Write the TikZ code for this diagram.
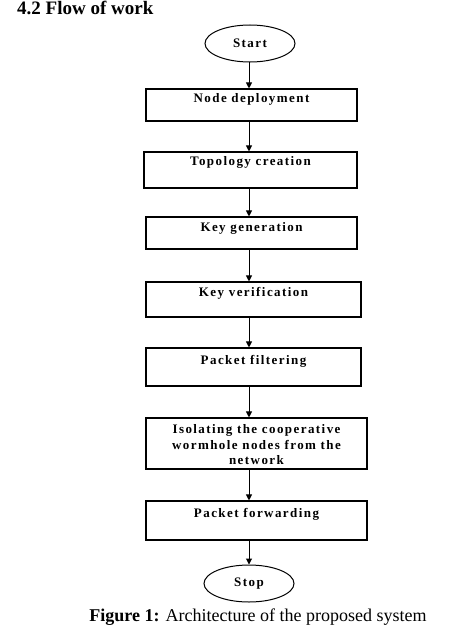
\documentclass[tikz,border=0pt]{standalone}
\usepackage{fontspec}
\setmainfont{Liberation Serif}
\newfontfamily\boxfont[LetterSpace=11]{Liberation Serif}
\usetikzlibrary{arrows.meta,shapes.geometric,calc}
\tikzset{
  flowbox/.style={draw=black, line width=1.1pt, rectangle, inner sep=0pt},
  term/.style={draw=black, line width=1.0pt, ellipse, minimum width=90pt, minimum height=37pt, inner sep=0pt, font=\boxfont\bfseries\fontsize{13}{15}\selectfont},
  lbl/.style={inner sep=0pt, align=center, font=\boxfont\bfseries\fontsize{13}{15.5}\selectfont},
  flowarrow/.style={draw=black, line width=1.0pt, -{Triangle[length=6pt,width=6pt]}},
}
\begin{document}
\begin{tikzpicture}[x=1pt,y=-1pt]
\useasboundingbox (0,0) rectangle (474,626);
\node[anchor=base west, inner sep=0pt, font=\bfseries\fontsize{19}{21}\selectfont] (title) at (17,15) {4.2 Flow of work};
\coordinate (ax) at (249,0);

\node[term] (start) at (250,43.5) {Start};

\node[flowbox, minimum width=211pt, minimum height=32pt] (b1) at (251.5,105) {};
\node[flowbox, minimum width=213pt, minimum height=36pt] (b2) at (250.5,170) {};
\node[flowbox, minimum width=211pt, minimum height=32pt] (b3) at (251.5,233) {};
\node[flowbox, minimum width=215pt, minimum height=35pt] (b4) at (253.5,299.5) {};
\node[flowbox, minimum width=215pt, minimum height=38pt] (b5) at (253.5,367) {};
\node[flowbox, minimum width=221pt, minimum height=51pt] (b6) at (256.5,443.5) {};
\node[flowbox, minimum width=221pt, minimum height=39pt] (b7) at (256.5,520.5) {};

\node[lbl, anchor=base] (t1) at (251.5,102.5) {Node deployment};
\node[lbl, anchor=base] (t2) at (250.5,165.5) {Topology creation};
\node[lbl, anchor=base] (t3) at (251.5,231.5) {Key generation};
\node[lbl, anchor=base] (t4) at (253.5,296.5) {Key verification};
\node[lbl, anchor=base] (t5) at (253.5,364.5) {Packet filtering};
\node[lbl, anchor=base] (t6) at (256.5,464.5) {Isolating the cooperative\\wormhole nodes from the\\network};
\node[lbl, anchor=base] (t7) at (256.5,517.5) {Packet forwarding};

\node[term] (stop) at (249,583.5) {Stop};

\draw[flowarrow] (start.south -| ax) -- (b1.north -| ax);
\draw[flowarrow] (b1.south -| ax) -- (b2.north -| ax);
\draw[flowarrow] (b2.south -| ax) -- (b3.north -| ax);
\draw[flowarrow] (b3.south -| ax) -- (b4.north -| ax);
\draw[flowarrow] (b4.south -| ax) -- (b5.north -| ax);
\draw[flowarrow] (b5.south -| ax) -- (b6.north -| ax);
\draw[flowarrow] (b6.south -| ax) -- (b7.north -| ax);
\draw[flowarrow] (b7.south -| ax) -- (stop.north);

\node[anchor=base, inner sep=0pt, font=\fontsize{18}{20}\selectfont] (cap) at (258,621) {\textbf{Figure 1:} Architecture of the proposed system};
\end{tikzpicture}
\end{document}
